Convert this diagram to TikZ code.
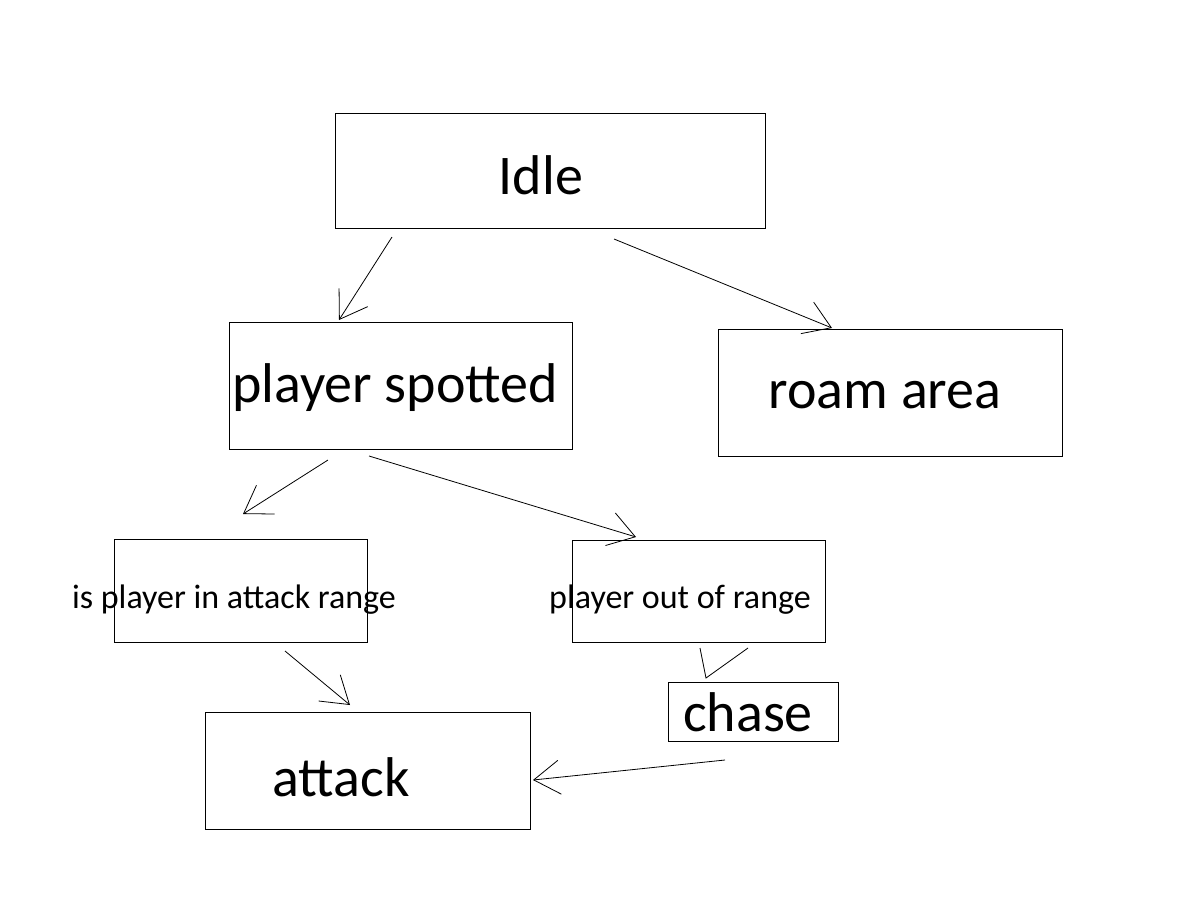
\documentclass[tikz,border=0pt]{standalone}
\usepackage{fontspec}
\setmainfont{Carlito}
\usetikzlibrary{arrows.meta}
\begin{document}
\begin{tikzpicture}[x=1pt,y=-1pt,
  box/.style={draw,line width=0.8pt},
  big/.style={font=\fontsize{56}{60}\selectfont},
  small/.style={font=\fontsize{34}{38}\selectfont},
  arr/.style={line width=0.8pt,-{Straight Barb[length=26pt,width=34pt,line width=0.8pt]}}]
\useasboundingbox (0,0) rectangle (1200,900);
\draw[box] (335,113) rectangle (765,228);
\node[big] (idle) at (541,175) {Idle};
\draw[box] (229,322) rectangle (572,449);
\node[big] (ps) at (395,388) {player spotted};
\draw[box] (718,329) rectangle (1062,456);
\node[big] (roam) at (885,395) {roam area};
\draw[box] (114,539) rectangle (367,642);
\node[small] (inr) at (234,600) {is player in attack range};
\draw[box] (572,540) rectangle (825,642);
\node[small] (out) at (680,600) {player out of range};
\draw[box] (668,682) rectangle (838,741);
\node[big] (chase) at (748,712) {chase};
\draw[box] (205,712) rectangle (530,829);
\node[big] (attack) at (341,777) {attack};
\coordinate (a1) at (392,237); \coordinate (b1) at (339,320);
\coordinate (a2) at (614,239); \coordinate (b2) at (832,328);
\coordinate (a3) at (328,460); \coordinate (b3) at (243,514);
\coordinate (a4) at (369,456); \coordinate (b4) at (636,537);
\coordinate (a5) at (285,651); \coordinate (b5) at (350,705);
\coordinate (a6) at (725,760); \coordinate (b6) at (533,780);
\coordinate (c1) at (700,648); \coordinate (c2) at (748,648); \coordinate (c3) at (706,678);
\draw[arr] (a1) -- (b1);
\draw[arr] (a2) -- (b2);
\draw[arr] (a3) -- (b3);
\draw[arr] (a4) -- (b4);
\draw[arr] (a5) -- (b5);
\draw[arr] (a6) -- (b6);
\draw[line width=0.8pt] (c1) -- (c3) -- (c2);
\end{tikzpicture}
\end{document}
